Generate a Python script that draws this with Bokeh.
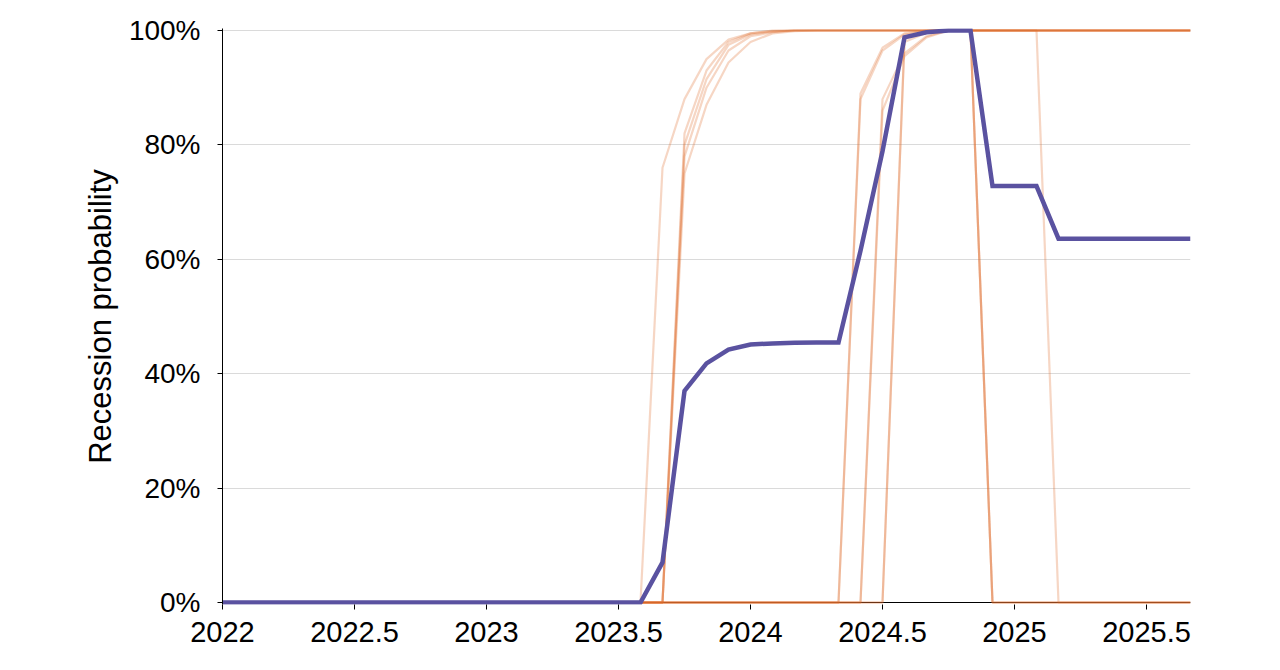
from bokeh.plotting import figure
from bokeh.models import FixedTicker, NumeralTickFormatter, Range1d, Span
from bokeh.embed import file_html
from bokeh.resources import INLINE

# Monthly time steps, 2022.0 .. 2025.667
months = [2022 + i / 12 for i in range(45)]

x_ticks = [2022, 2022.5, 2023, 2023.5, 2024, 2024.5, 2025, 2025.5]
x_tick_labels = ["2022", "2022.5", "2023", "2023.5", "2024", "2024.5", "2025", "2025.5"]
y_ticks = [0, 0.2, 0.4, 0.6, 0.8, 1.0]

# Individual simulated paths (percent), one value per month
path_a = [0, 0, 0, 0, 0, 0, 0, 0, 0, 0, 0, 0, 0, 0, 0, 0, 0, 0, 0, 0,
          76, 88, 95, 98.4, 99.5, 99.9, 100, 100, 100, 100, 100, 100, 100, 100, 100,
          100, 100, 100, 100, 100, 100, 100, 100, 100, 100]
path_b1 = [0, 0, 0, 0, 0, 0, 0, 0, 0, 0, 0, 0, 0, 0, 0, 0, 0, 0, 0, 0,
           0, 82, 93, 98, 99.5, 100, 100, 100, 100, 100, 100, 100, 100, 100, 100,
           100, 100, 100, 100, 100, 100, 100, 100, 100, 100]
path_b2 = [0, 0, 0, 0, 0, 0, 0, 0, 0, 0, 0, 0, 0, 0, 0, 0, 0, 0, 0, 0,
           0, 80, 91.5, 97.5, 99.3, 99.8, 100, 100, 100, 100, 100, 100, 100, 100, 100,
           100, 100, 100, 100, 100, 100, 100, 100, 100, 100]
path_b3 = [0, 0, 0, 0, 0, 0, 0, 0, 0, 0, 0, 0, 0, 0, 0, 0, 0, 0, 0, 0,
           0, 78, 90, 96.5, 99, 99.7, 100, 100, 100, 100, 100, 100, 100, 100, 100,
           100, 100, 100, 0, 0, 0, 0, 0, 0, 0]
path_b4 = [0, 0, 0, 0, 0, 0, 0, 0, 0, 0, 0, 0, 0, 0, 0, 0, 0, 0, 0, 0,
           0, 75, 87, 94.4, 98, 99.5, 99.9, 100, 100, 100, 100, 100, 100, 100, 100,
           100, 100, 100, 100, 100, 100, 100, 100, 100, 100]
path_c1 = [0, 0, 0, 0, 0, 0, 0, 0, 0, 0, 0, 0, 0, 0, 0, 0, 0, 0, 0, 0,
           0, 0, 0, 0, 0, 0, 0, 0, 0, 89, 97, 99.5, 100, 100, 100,
           100, 100, 100, 100, 100, 100, 100, 100, 100, 100]
path_c2 = [0, 0, 0, 0, 0, 0, 0, 0, 0, 0, 0, 0, 0, 0, 0, 0, 0, 0, 0, 0,
           0, 0, 0, 0, 0, 0, 0, 0, 0, 88, 96.5, 99.3, 99.9, 100, 100,
           0, 0, 0, 0, 0, 0, 0, 0, 0, 0]
path_d1 = [0, 0, 0, 0, 0, 0, 0, 0, 0, 0, 0, 0, 0, 0, 0, 0, 0, 0, 0, 0,
           0, 0, 0, 0, 0, 0, 0, 0, 0, 0, 88, 96, 99, 100, 100,
           0, 0, 0, 0, 0, 0, 0, 0, 0, 0]
path_d2 = [0, 0, 0, 0, 0, 0, 0, 0, 0, 0, 0, 0, 0, 0, 0, 0, 0, 0, 0, 0,
           0, 0, 0, 0, 0, 0, 0, 0, 0, 0, 86, 95.5, 98.8, 100, 100,
           100, 100, 100, 100, 100, 100, 100, 100, 100, 100]
path_e1 = [0, 0, 0, 0, 0, 0, 0, 0, 0, 0, 0, 0, 0, 0, 0, 0, 0, 0, 0, 0,
           0, 0, 0, 0, 0, 0, 0, 0, 0, 0, 0, 98.5, 99.8, 100, 100,
           0, 0, 0, 0, 0, 0, 0, 0, 0, 0]
path_e2 = [0, 0, 0, 0, 0, 0, 0, 0, 0, 0, 0, 0, 0, 0, 0, 0, 0, 0, 0, 0,
           0, 0, 0, 0, 0, 0, 0, 0, 0, 0, 0, 98, 99.6, 100, 100,
           100, 100, 100, 100, 100, 100, 100, 100, 100, 100]

paths = [path_a, path_b1, path_b2, path_b3, path_b4,
         path_c1, path_c2, path_d1, path_d2, path_e1, path_e2]

# Average recession probability (percent)
mean_prob = [0, 0, 0, 0, 0, 0, 0, 0, 0, 0, 0, 0, 0, 0, 0, 0, 0, 0, 0, 0,
             7, 37, 41.8, 44.2, 45.1, 45.3, 45.4, 45.45, 45.45, 61.5, 78.9, 98.8, 99.7, 100, 100,
             72.8, 72.8, 72.8, 63.6, 63.6, 63.6, 63.6, 63.6, 63.6, 63.6]

FONT = "Liberation Sans"

p = figure(width=1264, height=654, output_backend="svg", toolbar_location=None,
           x_range=Range1d(months[0], months[-1]), y_range=Range1d(-0.0035, 1.0035),
           min_border_left=222, min_border_right=74, min_border_top=28,
           min_border_bottom=50)
p.outline_line_color = None
p.background_fill_color = "white"

# black baseline sits under the data lines
p.add_layout(Span(location=0, dimension="width", line_color="black", line_width=1.2,
                  level="underlay"))

for path in paths:
    p.line(months, [v / 100 for v in path], line_color="#DD6A2A", line_alpha=0.28,
           line_width=2.2)

p.line(months, [v / 100 for v in mean_prob], line_color="#5A52A0", line_width=4.5,
       line_join="miter")

p.xgrid.grid_line_color = None
p.ygrid.grid_line_color = "#DADADA"
p.ygrid.grid_line_width = 1
p.ygrid.ticker = FixedTicker(ticks=y_ticks)

p.xaxis.ticker = FixedTicker(ticks=x_ticks)
p.xaxis.major_label_overrides = {t: l for t, l in zip(x_ticks, x_tick_labels)}
p.yaxis.ticker = FixedTicker(ticks=y_ticks)
p.yaxis.formatter = NumeralTickFormatter(format="0%")
p.yaxis.axis_label = "Recession probability"

for ax in (p.xaxis[0], p.yaxis[0]):
    ax.axis_line_color = "black"
    ax.axis_line_width = 1
    ax.major_tick_line_color = "black"
    ax.major_tick_in = 0
    ax.major_tick_out = 5
    ax.minor_tick_line_color = None
    ax.major_label_text_font = FONT
    ax.major_label_text_color = "black"
    ax.axis_label_text_font = FONT
    ax.axis_label_text_font_style = "normal"
    ax.axis_label_text_color = "black"

p.xaxis.axis_line_color = None
p.xaxis.major_label_text_font_size = "29px"
p.xaxis.major_label_standoff = 12
p.yaxis.major_label_text_font_size = "28px"
p.yaxis.major_label_standoff = 17
p.yaxis.axis_label_text_font_size = "31px"
p.yaxis.axis_label_standoff = 8

open("out.html", "w").write(file_html(p, INLINE))
